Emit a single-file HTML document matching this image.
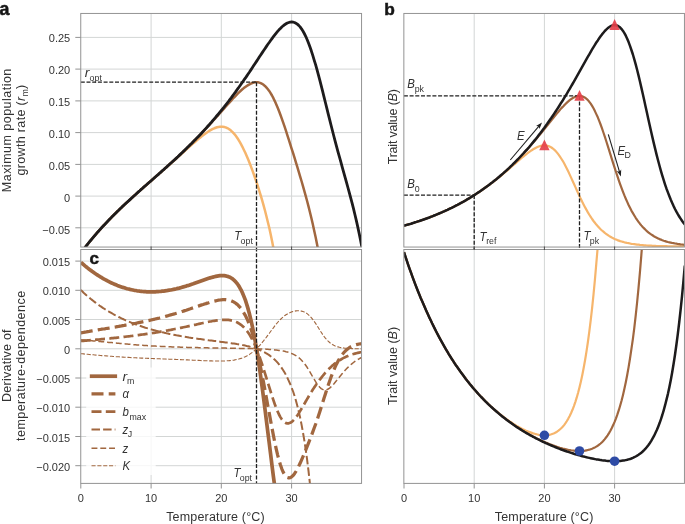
<!DOCTYPE html>
<html><head><meta charset="utf-8"><title>Figure</title>
<style>html,body{margin:0;padding:0;background:#fff;overflow:hidden}svg{display:block}</style></head>
<body>
<svg width="685" height="524" viewBox="0 0 685 524" font-family="'Liberation Sans', sans-serif" fill="#333333">
<defs>
<clipPath id="cpa"><rect x="80.75" y="13.45" width="280.8" height="233.6"/></clipPath>
<clipPath id="cpc"><rect x="80.75" y="249.5" width="280.8" height="233.9"/></clipPath>
<clipPath id="cpb"><rect x="403.85" y="13.45" width="280.6" height="233.6"/></clipPath>
<clipPath id="cpd"><rect x="403.85" y="249.5" width="280.6" height="233.9"/></clipPath>
</defs>
<rect width="685" height="524" fill="#fff"/>
<line x1="151.1" y1="13.45" x2="151.1" y2="247.0" stroke="#d3d6d5" stroke-width="1"/>
<line x1="221.3" y1="13.45" x2="221.3" y2="247.0" stroke="#d3d6d5" stroke-width="1"/>
<line x1="291.6" y1="13.45" x2="291.6" y2="247.0" stroke="#d3d6d5" stroke-width="1"/>
<line x1="80.75" y1="37.4" x2="361.5" y2="37.4" stroke="#d3d6d5" stroke-width="1"/>
<line x1="80.75" y1="69.1" x2="361.5" y2="69.1" stroke="#d3d6d5" stroke-width="1"/>
<line x1="80.75" y1="100.9" x2="361.5" y2="100.9" stroke="#d3d6d5" stroke-width="1"/>
<line x1="80.75" y1="132.6" x2="361.5" y2="132.6" stroke="#d3d6d5" stroke-width="1"/>
<line x1="80.75" y1="164.4" x2="361.5" y2="164.4" stroke="#d3d6d5" stroke-width="1"/>
<line x1="80.75" y1="196.1" x2="361.5" y2="196.1" stroke="#d3d6d5" stroke-width="1"/>
<line x1="80.75" y1="227.8" x2="361.5" y2="227.8" stroke="#d3d6d5" stroke-width="1"/>
<line x1="151.1" y1="249.5" x2="151.1" y2="483.45" stroke="#d3d6d5" stroke-width="1"/>
<line x1="221.3" y1="249.5" x2="221.3" y2="483.45" stroke="#d3d6d5" stroke-width="1"/>
<line x1="291.6" y1="249.5" x2="291.6" y2="483.45" stroke="#d3d6d5" stroke-width="1"/>
<line x1="80.75" y1="261.1" x2="361.5" y2="261.1" stroke="#d3d6d5" stroke-width="1"/>
<line x1="80.75" y1="290.3" x2="361.5" y2="290.3" stroke="#d3d6d5" stroke-width="1"/>
<line x1="80.75" y1="319.5" x2="361.5" y2="319.5" stroke="#d3d6d5" stroke-width="1"/>
<line x1="80.75" y1="348.8" x2="361.5" y2="348.8" stroke="#d3d6d5" stroke-width="1"/>
<line x1="80.75" y1="378.0" x2="361.5" y2="378.0" stroke="#d3d6d5" stroke-width="1"/>
<line x1="80.75" y1="407.2" x2="361.5" y2="407.2" stroke="#d3d6d5" stroke-width="1"/>
<line x1="80.75" y1="436.5" x2="361.5" y2="436.5" stroke="#d3d6d5" stroke-width="1"/>
<line x1="80.75" y1="465.7" x2="361.5" y2="465.7" stroke="#d3d6d5" stroke-width="1"/>
<line x1="474.2" y1="13.45" x2="474.2" y2="247.0" stroke="#d3d6d5" stroke-width="1"/>
<line x1="544.4" y1="13.45" x2="544.4" y2="247.0" stroke="#d3d6d5" stroke-width="1"/>
<line x1="614.6" y1="13.45" x2="614.6" y2="247.0" stroke="#d3d6d5" stroke-width="1"/>
<line x1="474.2" y1="249.5" x2="474.2" y2="483.45" stroke="#d3d6d5" stroke-width="1"/>
<line x1="544.4" y1="249.5" x2="544.4" y2="483.45" stroke="#d3d6d5" stroke-width="1"/>
<line x1="614.6" y1="249.5" x2="614.6" y2="483.45" stroke="#d3d6d5" stroke-width="1"/>
<path d="M80.8,253.0 82.2,251.2 83.6,249.3 85.0,247.5 86.4,245.7 87.8,244.0 89.2,242.2 90.6,240.5 92.0,238.8 93.4,237.1 94.8,235.5 96.2,233.9 97.6,232.2 99.0,230.7 100.4,229.1 101.8,227.5 103.2,226.0 104.7,224.5 106.1,223.0 107.5,221.5 108.9,220.0 110.3,218.6 111.7,217.1 113.1,215.7 114.5,214.3 115.9,212.9 117.3,211.5 118.7,210.2 120.1,208.8 121.5,207.5 122.9,206.1 124.3,204.8 125.7,203.5 127.1,202.2 128.6,200.9 130.0,199.6 131.4,198.3 132.8,197.0 134.2,195.7 135.6,194.5 137.0,193.2 138.4,192.0 139.8,190.7 141.2,189.5 142.6,188.2 144.0,187.0 145.4,185.7 146.8,184.5 148.2,183.3 149.6,182.0 151.1,180.8 152.5,179.6 153.9,178.3 155.3,177.1 156.7,175.9 158.1,174.6 159.5,173.4 160.9,172.2 162.3,170.9 163.7,169.7 165.1,168.5 166.5,167.2 167.9,166.0 169.3,164.7 170.7,163.5 172.1,162.2 173.5,161.0 175.0,159.7 176.4,158.5 177.8,157.2 179.2,155.9 180.6,154.7 182.0,153.4 183.4,152.2 184.8,150.9 186.2,149.6 187.6,148.4 189.0,147.1 190.4,145.9 191.8,144.6 193.2,143.4 194.6,142.2 196.0,141.0 197.4,139.8 198.9,138.6 200.3,137.5 201.7,136.3 203.1,135.2 204.5,134.2 205.9,133.2 207.3,132.2 208.7,131.3 210.1,130.4 211.5,129.6 212.9,128.9 214.3,128.3 215.7,127.8 217.1,127.3 218.5,127.0 219.9,126.8 221.3,126.7 222.8,126.8 224.2,127.0 225.6,127.4 227.0,128.0 228.4,128.7 229.8,129.6 231.2,130.8 232.6,132.1 234.0,133.6 235.4,135.3 236.8,137.2 238.2,139.3 239.6,141.7 241.0,144.2 242.4,146.8 243.8,149.7 245.3,152.7 246.7,155.9 248.1,159.3 249.5,162.7 250.9,166.4 252.3,170.1 253.7,174.0 255.1,178.0 256.5,182.1 257.9,186.4 259.3,190.8 260.7,195.4 262.1,200.1 263.5,205.1 264.9,210.3 266.3,215.7 267.7,221.5 269.2,227.5 270.6,233.9 272.0,240.7 273.4,248.0 274.8,255.7 276.2,263.9 277.6,272.7 279.0,282.0 280.4,292.0" fill="none" stroke="#f6b56c" stroke-width="2.5" stroke-linejoin="round" stroke-linecap="butt" clip-path="url(#cpa)"/>
<path d="M80.8,253.0 82.2,251.2 83.6,249.3 85.0,247.5 86.4,245.7 87.8,244.0 89.2,242.2 90.6,240.5 92.0,238.8 93.4,237.1 94.8,235.5 96.2,233.9 97.6,232.2 99.0,230.7 100.4,229.1 101.8,227.5 103.2,226.0 104.7,224.5 106.1,223.0 107.5,221.5 108.9,220.0 110.3,218.6 111.7,217.1 113.1,215.7 114.5,214.3 115.9,212.9 117.3,211.5 118.7,210.2 120.1,208.8 121.5,207.5 122.9,206.1 124.3,204.8 125.7,203.5 127.1,202.2 128.6,200.9 130.0,199.6 131.4,198.3 132.8,197.0 134.2,195.7 135.6,194.5 137.0,193.2 138.4,191.9 139.8,190.7 141.2,189.4 142.6,188.2 144.0,186.9 145.4,185.7 146.8,184.5 148.2,183.2 149.6,182.0 151.1,180.8 152.5,179.5 153.9,178.3 155.3,177.0 156.7,175.8 158.1,174.6 159.5,173.3 160.9,172.1 162.3,170.8 163.7,169.6 165.1,168.3 166.5,167.1 167.9,165.8 169.3,164.5 170.7,163.3 172.1,162.0 173.5,160.7 175.0,159.4 176.4,158.1 177.8,156.8 179.2,155.5 180.6,154.2 182.0,152.8 183.4,151.5 184.8,150.1 186.2,148.8 187.6,147.4 189.0,146.0 190.4,144.7 191.8,143.3 193.2,141.8 194.6,140.4 196.0,139.0 197.4,137.6 198.9,136.1 200.3,134.7 201.7,133.2 203.1,131.7 204.5,130.2 205.9,128.7 207.3,127.2 208.7,125.7 210.1,124.1 211.5,122.6 212.9,121.0 214.3,119.5 215.7,117.9 217.1,116.3 218.5,114.8 219.9,113.2 221.3,111.6 222.8,110.0 224.2,108.4 225.6,106.8 227.0,105.2 228.4,103.7 229.8,102.1 231.2,100.6 232.6,99.0 234.0,97.5 235.4,96.1 236.8,94.6 238.2,93.2 239.6,91.8 241.0,90.5 242.4,89.3 243.8,88.1 245.3,87.0 246.7,86.0 248.1,85.1 249.5,84.3 250.9,83.6 252.3,83.0 253.7,82.6 255.1,82.3 256.5,82.2 257.9,82.3 259.3,82.6 260.7,83.1 262.1,83.8 263.5,84.8 264.9,85.9 266.3,87.4 267.7,89.0 269.2,90.9 270.6,93.1 272.0,95.5 273.4,98.2 274.8,101.1 276.2,104.2 277.6,107.5 279.0,111.0 280.4,114.7 281.8,118.6 283.2,122.6 284.6,126.7 286.0,130.9 287.4,135.3 288.8,139.6 290.2,144.1 291.6,148.6 293.1,153.1 294.5,157.7 295.9,162.3 297.3,166.9 298.7,171.6 300.1,176.3 301.5,181.0 302.9,185.9 304.3,190.8 305.7,195.8 307.1,201.0 308.5,206.4 309.9,212.0 311.3,217.7 312.7,223.8 314.1,230.2 315.6,236.9 317.0,244.0 318.4,251.5 319.8,259.5 321.2,268.0 322.6,277.0 324.0,286.6 325.4,296.8" fill="none" stroke="#a1673f" stroke-width="2.5" stroke-linejoin="round" stroke-linecap="butt" clip-path="url(#cpa)"/>
<path d="M80.8,253.0 82.2,251.2 83.6,249.3 85.0,247.5 86.4,245.7 87.8,244.0 89.2,242.2 90.6,240.5 92.0,238.8 93.4,237.1 94.8,235.5 96.2,233.9 97.6,232.2 99.0,230.7 100.4,229.1 101.8,227.5 103.2,226.0 104.7,224.5 106.1,223.0 107.5,221.5 108.9,220.0 110.3,218.6 111.7,217.1 113.1,215.7 114.5,214.3 115.9,212.9 117.3,211.5 118.7,210.2 120.1,208.8 121.5,207.5 122.9,206.1 124.3,204.8 125.7,203.5 127.1,202.2 128.6,200.9 130.0,199.6 131.4,198.3 132.8,197.0 134.2,195.7 135.6,194.5 137.0,193.2 138.4,191.9 139.8,190.7 141.2,189.4 142.6,188.2 144.0,186.9 145.4,185.7 146.8,184.5 148.2,183.2 149.6,182.0 151.1,180.8 152.5,179.5 153.9,178.3 155.3,177.0 156.7,175.8 158.1,174.6 159.5,173.3 160.9,172.1 162.3,170.8 163.7,169.6 165.1,168.3 166.5,167.1 167.9,165.8 169.3,164.5 170.7,163.2 172.1,162.0 173.5,160.7 175.0,159.4 176.4,158.1 177.8,156.8 179.2,155.4 180.6,154.1 182.0,152.8 183.4,151.4 184.8,150.1 186.2,148.7 187.6,147.3 189.0,146.0 190.4,144.6 191.8,143.2 193.2,141.7 194.6,140.3 196.0,138.9 197.4,137.4 198.9,135.9 200.3,134.5 201.7,133.0 203.1,131.4 204.5,129.9 205.9,128.4 207.3,126.8 208.7,125.3 210.1,123.7 211.5,122.1 212.9,120.4 214.3,118.8 215.7,117.2 217.1,115.5 218.5,113.8 219.9,112.1 221.3,110.4 222.8,108.6 224.2,106.9 225.6,105.1 227.0,103.3 228.4,101.5 229.8,99.6 231.2,97.8 232.6,95.9 234.0,94.0 235.4,92.1 236.8,90.1 238.2,88.2 239.6,86.2 241.0,84.2 242.4,82.2 243.8,80.2 245.3,78.2 246.7,76.1 248.1,74.0 249.5,72.0 250.9,69.9 252.3,67.8 253.7,65.6 255.1,63.5 256.5,61.4 257.9,59.3 259.3,57.1 260.7,55.0 262.1,52.9 263.5,50.8 264.9,48.7 266.3,46.6 267.7,44.5 269.2,42.5 270.6,40.5 272.0,38.6 273.4,36.7 274.8,34.9 276.2,33.1 277.6,31.4 279.0,29.8 280.4,28.4 281.8,27.0 283.2,25.8 284.6,24.7 286.0,23.8 287.4,23.0 288.8,22.5 290.2,22.1 291.6,22.0 293.1,22.2 294.5,22.5 295.9,23.2 297.3,24.1 298.7,25.4 300.1,26.9 301.5,28.8 302.9,31.0 304.3,33.5 305.7,36.3 307.1,39.5 308.5,43.0 309.9,46.8 311.3,50.8 312.7,55.2 314.1,59.8 315.6,64.6 317.0,69.6 318.4,74.8 319.8,80.2 321.2,85.7 322.6,91.2 324.0,96.8 325.4,102.5 326.8,108.2 328.2,113.8 329.6,119.4 331.0,125.0 332.4,130.5 333.8,136.0 335.2,141.4 336.6,146.7 338.0,151.9 339.5,157.1 340.9,162.2 342.3,167.3 343.7,172.3 345.1,177.3 346.5,182.4 347.9,187.5 349.3,192.6 350.7,197.8 352.1,203.2 353.5,208.7 354.9,214.5 356.3,220.4 357.7,226.6 359.1,233.1 360.5,240.0 361.9,247.2" fill="none" stroke="#1d1b1c" stroke-width="2.8" stroke-linejoin="round" stroke-linecap="butt" clip-path="url(#cpa)"/>
<path d="M80.8,353.7 82.2,353.8 83.6,353.9 85.0,354.1 86.4,354.2 87.8,354.3 89.2,354.5 90.6,354.6 92.0,354.7 93.4,354.8 94.8,355.0 96.2,355.1 97.6,355.2 99.0,355.3 100.4,355.5 101.8,355.6 103.2,355.7 104.7,355.8 106.1,355.9 107.5,356.0 108.9,356.1 110.3,356.2 111.7,356.3 113.1,356.5 114.5,356.6 115.9,356.7 117.3,356.7 118.7,356.8 120.1,356.9 121.5,357.0 122.9,357.1 124.3,357.2 125.7,357.3 127.1,357.4 128.6,357.4 130.0,357.5 131.4,357.6 132.8,357.7 134.2,357.7 135.6,357.8 137.0,357.9 138.4,357.9 139.8,358.0 141.2,358.1 142.6,358.1 144.0,358.2 145.4,358.3 146.8,358.3 148.2,358.4 149.6,358.4 151.1,358.5 152.5,358.5 153.9,358.6 155.3,358.7 156.7,358.7 158.1,358.8 159.5,358.8 160.9,358.9 162.3,358.9 163.7,359.0 165.1,359.0 166.5,359.1 167.9,359.1 169.3,359.2 170.7,359.2 172.1,359.3 173.5,359.4 175.0,359.4 176.4,359.5 177.8,359.5 179.2,359.6 180.6,359.6 182.0,359.7 183.4,359.8 184.8,359.8 186.2,359.9 187.6,359.9 189.0,360.0 190.4,360.1 191.8,360.1 193.2,360.2 194.6,360.2 196.0,360.3 197.4,360.4 198.9,360.4 200.3,360.5 201.7,360.6 203.1,360.6 204.5,360.7 205.9,360.7 207.3,360.8 208.7,360.8 210.1,360.9 211.5,360.9 212.9,361.0 214.3,361.0 215.7,361.0 217.1,361.0 218.5,361.0 219.9,361.0 221.3,361.0 222.8,361.0 224.2,361.0 225.6,360.9 227.0,360.8 228.4,360.7 229.8,360.6 231.2,360.5 232.6,360.3 234.0,360.1 235.4,359.8 236.8,359.5 238.2,359.2 239.6,358.8 241.0,358.4 242.4,357.9 243.8,357.3 245.3,356.7 246.7,356.0 248.1,355.2 249.5,354.4 250.9,353.4 252.3,352.4 253.7,351.3 255.1,350.1 256.5,348.8 257.9,347.4 259.3,345.9 260.7,344.3 262.1,342.6 263.5,340.9 264.9,339.1 266.3,337.3 267.7,335.4 269.2,333.5 270.6,331.5 272.0,329.6 273.4,327.8 274.8,325.9 276.2,324.2 277.6,322.5 279.0,320.9 280.4,319.5 281.8,318.1 283.2,316.9 284.6,315.7 286.0,314.7 287.4,313.9 288.8,313.1 290.2,312.5 291.6,311.9 293.1,311.5 294.5,311.2 295.9,310.9 297.3,310.8 298.7,310.8 300.1,310.9 301.5,311.1 302.9,311.5 304.3,312.0 305.7,312.7 307.1,313.6 308.5,314.8 309.9,316.1 311.3,317.6 312.7,319.4 314.1,321.3 315.6,323.4 317.0,325.6 318.4,327.8 319.8,330.1 321.2,332.3 322.6,334.4 324.0,336.3 325.4,338.1 326.8,339.8 328.2,341.2 329.6,342.5 331.0,343.6 332.4,344.5 333.8,345.3 335.2,346.0 336.6,346.5 338.0,346.9 339.5,347.3 340.9,347.6 342.3,347.8 343.7,348.0 345.1,348.2 346.5,348.3 347.9,348.4 349.3,348.5 350.7,348.5 352.1,348.6 353.5,348.6 354.9,348.7 356.3,348.7 357.7,348.7 359.1,348.7 360.5,348.7 361.9,348.7" fill="none" stroke="#a1673f" stroke-width="1.1" stroke-linejoin="round" stroke-linecap="butt" stroke-dasharray="4.1 1.75" clip-path="url(#cpc)"/>
<path d="M80.8,339.8 82.2,339.9 83.6,340.0 85.0,340.2 86.4,340.3 87.8,340.4 89.2,340.5 90.6,340.6 92.0,340.7 93.4,340.9 94.8,341.0 96.2,341.1 97.6,341.3 99.0,341.4 100.4,341.5 101.8,341.7 103.2,341.8 104.7,341.9 106.1,342.1 107.5,342.2 108.9,342.4 110.3,342.5 111.7,342.6 113.1,342.8 114.5,342.9 115.9,343.0 117.3,343.2 118.7,343.3 120.1,343.4 121.5,343.6 122.9,343.7 124.3,343.8 125.7,344.0 127.1,344.1 128.6,344.2 130.0,344.3 131.4,344.4 132.8,344.6 134.2,344.7 135.6,344.8 137.0,344.9 138.4,345.0 139.8,345.1 141.2,345.2 142.6,345.3 144.0,345.4 145.4,345.5 146.8,345.6 148.2,345.7 149.6,345.8 151.1,345.9 152.5,345.9 153.9,346.0 155.3,346.1 156.7,346.2 158.1,346.2 159.5,346.3 160.9,346.4 162.3,346.5 163.7,346.5 165.1,346.6 166.5,346.7 167.9,346.7 169.3,346.8 170.7,346.8 172.1,346.9 173.5,346.9 175.0,347.0 176.4,347.0 177.8,347.1 179.2,347.1 180.6,347.2 182.0,347.2 183.4,347.3 184.8,347.3 186.2,347.3 187.6,347.4 189.0,347.4 190.4,347.5 191.8,347.5 193.2,347.5 194.6,347.6 196.0,347.6 197.4,347.6 198.9,347.7 200.3,347.7 201.7,347.7 203.1,347.7 204.5,347.8 205.9,347.8 207.3,347.8 208.7,347.9 210.1,347.9 211.5,347.9 212.9,347.9 214.3,348.0 215.7,348.0 217.1,348.0 218.5,348.0 219.9,348.0 221.3,348.1 222.8,348.1 224.2,348.1 225.6,348.1 227.0,348.2 228.4,348.2 229.8,348.2 231.2,348.2 232.6,348.2 234.0,348.3 235.4,348.3 236.8,348.3 238.2,348.3 239.6,348.4 241.0,348.4 242.4,348.4 243.8,348.4 245.3,348.5 246.7,348.5 248.1,348.5 249.5,348.6 250.9,348.6 252.3,348.6 253.7,348.7 255.1,348.7 256.5,348.8 257.9,348.8 259.3,348.9 260.7,348.9 262.1,349.0 263.5,349.1 264.9,349.1 266.3,349.2 267.7,349.3 269.2,349.4 270.6,349.5 272.0,349.6 273.4,349.7 274.8,349.9 276.2,350.0 277.6,350.2 279.0,350.4 280.4,350.6 281.8,350.8 283.2,351.0 284.6,351.3 286.0,351.7 287.4,352.0 288.8,352.4 290.2,352.9 291.6,353.5 293.1,354.1 294.5,354.8 295.9,355.6 297.3,356.5 298.7,357.6 300.1,358.8 301.5,360.2 302.9,361.7 304.3,363.4 305.7,365.3 307.1,367.3 308.5,369.6 309.9,371.9 311.3,374.3 312.7,376.8 314.1,379.2 315.6,381.6 317.0,383.8 318.4,385.7 319.8,387.3 321.2,388.6 322.6,389.4 324.0,389.9 325.4,390.0 326.8,389.7 328.2,389.0 329.6,388.1 331.0,386.9 332.4,385.4 333.8,383.9 335.2,382.2 336.6,380.5 338.0,378.7 339.5,376.9 340.9,375.2 342.3,373.5 343.7,371.9 345.1,370.3 346.5,368.8 347.9,367.4 349.3,366.0 350.7,364.8 352.1,363.6 353.5,362.5 354.9,361.4 356.3,360.5 357.7,359.6 359.1,358.8 360.5,358.0 361.9,357.3" fill="none" stroke="#a1673f" stroke-width="1.5" stroke-linejoin="round" stroke-linecap="butt" stroke-dasharray="5.9 2.9" clip-path="url(#cpc)"/>
<path d="M80.8,290.0 82.2,291.3 83.6,292.7 85.0,293.9 86.4,295.2 87.8,296.4 89.2,297.6 90.6,298.8 92.0,299.9 93.4,301.0 94.8,302.1 96.2,303.2 97.6,304.2 99.0,305.2 100.4,306.2 101.8,307.1 103.2,308.1 104.7,309.0 106.1,309.9 107.5,310.7 108.9,311.6 110.3,312.4 111.7,313.2 113.1,314.0 114.5,314.8 115.9,315.5 117.3,316.3 118.7,317.0 120.1,317.7 121.5,318.4 122.9,319.0 124.3,319.7 125.7,320.3 127.1,320.9 128.6,321.5 130.0,322.1 131.4,322.7 132.8,323.2 134.2,323.8 135.6,324.3 137.0,324.8 138.4,325.3 139.8,325.8 141.2,326.3 142.6,326.8 144.0,327.2 145.4,327.7 146.8,328.1 148.2,328.5 149.6,329.0 151.1,329.4 152.5,329.8 153.9,330.1 155.3,330.5 156.7,330.9 158.1,331.3 159.5,331.6 160.9,332.0 162.3,332.3 163.7,332.6 165.1,332.9 166.5,333.3 167.9,333.6 169.3,333.9 170.7,334.2 172.1,334.4 173.5,334.7 175.0,335.0 176.4,335.3 177.8,335.5 179.2,335.8 180.6,336.1 182.0,336.3 183.4,336.5 184.8,336.8 186.2,337.0 187.6,337.2 189.0,337.5 190.4,337.7 191.8,337.9 193.2,338.1 194.6,338.3 196.0,338.5 197.4,338.7 198.9,338.9 200.3,339.1 201.7,339.3 203.1,339.5 204.5,339.7 205.9,339.9 207.3,340.1 208.7,340.3 210.1,340.4 211.5,340.6 212.9,340.8 214.3,341.0 215.7,341.1 217.1,341.3 218.5,341.5 219.9,341.7 221.3,341.9 222.8,342.0 224.2,342.2 225.6,342.4 227.0,342.6 228.4,342.8 229.8,343.0 231.2,343.2 232.6,343.4 234.0,343.6 235.4,343.8 236.8,344.1 238.2,344.3 239.6,344.5 241.0,344.8 242.4,345.1 243.8,345.3 245.3,345.6 246.7,346.0 248.1,346.3 249.5,346.6 250.9,347.0 252.3,347.4 253.7,347.8 255.1,348.3 256.5,348.8 257.9,349.3 259.3,349.8 260.7,350.4 262.1,351.1 263.5,351.8 264.9,352.5 266.3,353.3 267.7,354.2 269.2,355.1 270.6,356.2 272.0,357.3 273.4,358.5 274.8,359.7 276.2,361.1 277.6,362.7 279.0,364.3 280.4,366.1 281.8,368.1 283.2,370.2 284.6,372.5 286.0,375.0 287.4,377.8 288.8,380.8 290.2,384.0 291.6,387.6 293.1,391.5 294.5,395.8 295.9,400.5 297.3,405.7 298.7,411.3 300.1,417.5 301.5,424.4 302.9,432.0 304.3,440.3 305.7,449.5 307.1,459.6 308.5,470.9 309.9,483.3 311.3,497.0 312.7,512.1" fill="none" stroke="#a1673f" stroke-width="2.0" stroke-linejoin="round" stroke-linecap="butt" stroke-dasharray="8.5 3.1" clip-path="url(#cpc)"/>
<path d="M80.8,341.0 82.2,340.9 83.6,340.8 85.0,340.7 86.4,340.6 87.8,340.4 89.2,340.3 90.6,340.2 92.0,340.1 93.4,340.0 94.8,339.8 96.2,339.7 97.6,339.6 99.0,339.5 100.4,339.3 101.8,339.2 103.2,339.1 104.7,338.9 106.1,338.8 107.5,338.7 108.9,338.5 110.3,338.4 111.7,338.2 113.1,338.1 114.5,337.9 115.9,337.8 117.3,337.6 118.7,337.5 120.1,337.3 121.5,337.2 122.9,337.0 124.3,336.8 125.7,336.7 127.1,336.5 128.6,336.3 130.0,336.2 131.4,336.0 132.8,335.8 134.2,335.6 135.6,335.5 137.0,335.3 138.4,335.1 139.8,334.9 141.2,334.7 142.6,334.5 144.0,334.3 145.4,334.1 146.8,333.9 148.2,333.7 149.6,333.5 151.1,333.2 152.5,333.0 153.9,332.8 155.3,332.6 156.7,332.3 158.1,332.1 159.5,331.9 160.9,331.6 162.3,331.4 163.7,331.1 165.1,330.9 166.5,330.6 167.9,330.4 169.3,330.1 170.7,329.9 172.1,329.6 173.5,329.3 175.0,329.0 176.4,328.8 177.8,328.5 179.2,328.2 180.6,327.9 182.0,327.6 183.4,327.3 184.8,327.0 186.2,326.7 187.6,326.4 189.0,326.1 190.4,325.8 191.8,325.5 193.2,325.2 194.6,324.9 196.0,324.6 197.4,324.2 198.9,323.9 200.3,323.6 201.7,323.3 203.1,323.0 204.5,322.7 205.9,322.4 207.3,322.1 208.7,321.8 210.1,321.5 211.5,321.3 212.9,321.0 214.3,320.8 215.7,320.6 217.1,320.4 218.5,320.2 219.9,320.0 221.3,319.9 222.8,319.8 224.2,319.8 225.6,319.8 227.0,319.8 228.4,319.9 229.8,320.1 231.2,320.4 232.6,320.7 234.0,321.1 235.4,321.6 236.8,322.2 238.2,323.0 239.6,323.8 241.0,324.8 242.4,326.0 243.8,327.3 245.3,328.8 246.7,330.6 248.1,332.5 249.5,334.6 250.9,337.0 252.3,339.6 253.7,342.4 255.1,345.5 256.5,348.8 257.9,352.3 259.3,356.1 260.7,360.1 262.1,364.3 263.5,368.6 264.9,373.1 266.3,377.7 267.7,382.3 269.2,386.9 270.6,391.5 272.0,395.9 273.4,400.2 274.8,404.2 276.2,408.0 277.6,411.4 279.0,414.5 280.4,417.1 281.8,419.3 283.2,421.0 284.6,422.3 286.0,423.1 287.4,423.4 288.8,423.3 290.2,422.8 291.6,422.0 293.1,420.7 294.5,419.2 295.9,417.5 297.3,415.5 298.7,413.4 300.1,411.1 301.5,408.8 302.9,406.4 304.3,404.0 305.7,401.5 307.1,399.1 308.5,396.7 309.9,394.3 311.3,392.1 312.7,389.8 314.1,387.6 315.6,385.5 317.0,383.5 318.4,381.5 319.8,379.6 321.2,377.8 322.6,376.0 324.0,374.3 325.4,372.7 326.8,371.1 328.2,369.6 329.6,368.2 331.0,366.9 332.4,365.6 333.8,364.4 335.2,363.3 336.6,362.2 338.0,361.2 339.5,360.3 340.9,359.5 342.3,358.6 343.7,357.9 345.1,357.2 346.5,356.6 347.9,356.0 349.3,355.4 350.7,354.9 352.1,354.4 353.5,354.0 354.9,353.6 356.3,353.2 357.7,352.9 359.1,352.6 360.5,352.3 361.9,352.0" fill="none" stroke="#a1673f" stroke-width="2.7" stroke-linejoin="round" stroke-linecap="butt" stroke-dasharray="10 4.3" clip-path="url(#cpc)"/>
<path d="M80.8,332.8 82.2,332.6 83.6,332.4 85.0,332.1 86.4,331.9 87.8,331.6 89.2,331.4 90.6,331.1 92.0,330.9 93.4,330.7 94.8,330.4 96.2,330.2 97.6,330.0 99.0,329.7 100.4,329.5 101.8,329.2 103.2,329.0 104.7,328.8 106.1,328.5 107.5,328.3 108.9,328.1 110.3,327.8 111.7,327.6 113.1,327.3 114.5,327.1 115.9,326.9 117.3,326.6 118.7,326.4 120.1,326.1 121.5,325.9 122.9,325.6 124.3,325.4 125.7,325.1 127.1,324.9 128.6,324.6 130.0,324.3 131.4,324.1 132.8,323.8 134.2,323.5 135.6,323.3 137.0,323.0 138.4,322.7 139.8,322.4 141.2,322.1 142.6,321.8 144.0,321.5 145.4,321.2 146.8,320.9 148.2,320.6 149.6,320.3 151.1,320.0 152.5,319.7 153.9,319.3 155.3,319.0 156.7,318.7 158.1,318.3 159.5,318.0 160.9,317.6 162.3,317.2 163.7,316.9 165.1,316.5 166.5,316.1 167.9,315.7 169.3,315.3 170.7,314.9 172.1,314.5 173.5,314.1 175.0,313.7 176.4,313.3 177.8,312.9 179.2,312.4 180.6,312.0 182.0,311.5 183.4,311.1 184.8,310.6 186.2,310.2 187.6,309.7 189.0,309.2 190.4,308.8 191.8,308.3 193.2,307.8 194.6,307.3 196.0,306.9 197.4,306.4 198.9,305.9 200.3,305.4 201.7,304.9 203.1,304.5 204.5,304.0 205.9,303.6 207.3,303.1 208.7,302.7 210.1,302.2 211.5,301.8 212.9,301.5 214.3,301.1 215.7,300.8 217.1,300.5 218.5,300.2 219.9,300.0 221.3,299.8 222.8,299.7 224.2,299.7 225.6,299.7 227.0,299.9 228.4,300.1 229.8,300.4 231.2,300.8 232.6,301.4 234.0,302.1 235.4,303.0 236.8,304.1 238.2,305.3 239.6,306.8 241.0,308.5 242.4,310.5 243.8,312.8 245.3,315.3 246.7,318.2 248.1,321.4 249.5,325.0 250.9,329.0 252.3,333.3 253.7,338.1 255.1,343.2 256.5,348.8 257.9,354.7 259.3,361.1 260.7,367.8 262.1,374.8 263.5,382.1 264.9,389.6 266.3,397.3 267.7,405.1 269.2,412.9 270.6,420.6 272.0,428.1 273.4,435.4 274.8,442.3 276.2,448.8 277.6,454.8 279.0,460.1 280.4,464.8 281.8,468.8 283.2,472.1 284.6,474.6 286.0,476.4 287.4,477.5 288.8,477.9 290.2,477.7 291.6,476.8 293.1,475.5 294.5,473.7 295.9,471.5 297.3,469.0 298.7,466.2 300.1,463.3 301.5,460.1 302.9,456.9 304.3,453.5 305.7,450.1 307.1,446.7 308.5,443.1 309.9,439.5 311.3,435.9 312.7,432.1 314.1,428.3 315.6,424.3 317.0,420.2 318.4,416.0 319.8,411.7 321.2,407.3 322.6,402.8 324.0,398.3 325.4,393.9 326.8,389.5 328.2,385.3 329.6,381.2 331.0,377.2 332.4,373.5 333.8,370.1 335.2,366.8 336.6,363.9 338.0,361.2 339.5,358.7 340.9,356.5 342.3,354.5 343.7,352.8 345.1,351.2 346.5,349.9 347.9,348.7 349.3,347.7 350.7,346.8 352.1,346.1 353.5,345.5 354.9,345.0 356.3,344.6 357.7,344.3 359.1,344.0 360.5,343.8 361.9,343.7" fill="none" stroke="#a1673f" stroke-width="3.25" stroke-linejoin="round" stroke-linecap="butt" stroke-dasharray="12 5.2" clip-path="url(#cpc)"/>
<path d="M80.8,262.3 82.2,263.5 83.6,264.7 85.0,265.9 86.4,267.0 87.8,268.1 89.2,269.2 90.6,270.2 92.0,271.3 93.4,272.3 94.8,273.3 96.2,274.2 97.6,275.1 99.0,276.0 100.4,276.9 101.8,277.7 103.2,278.6 104.7,279.4 106.1,280.1 107.5,280.9 108.9,281.6 110.3,282.3 111.7,283.0 113.1,283.6 114.5,284.2 115.9,284.8 117.3,285.4 118.7,285.9 120.1,286.4 121.5,286.9 122.9,287.4 124.3,287.8 125.7,288.3 127.1,288.7 128.6,289.0 130.0,289.4 131.4,289.7 132.8,290.0 134.2,290.3 135.6,290.5 137.0,290.8 138.4,291.0 139.8,291.2 141.2,291.3 142.6,291.5 144.0,291.6 145.4,291.7 146.8,291.8 148.2,291.8 149.6,291.8 151.1,291.9 152.5,291.8 153.9,291.8 155.3,291.8 156.7,291.7 158.1,291.6 159.5,291.5 160.9,291.4 162.3,291.2 163.7,291.1 165.1,290.9 166.5,290.7 167.9,290.4 169.3,290.2 170.7,290.0 172.1,289.7 173.5,289.4 175.0,289.1 176.4,288.8 177.8,288.4 179.2,288.1 180.6,287.7 182.0,287.3 183.4,286.9 184.8,286.5 186.2,286.1 187.6,285.6 189.0,285.2 190.4,284.7 191.8,284.2 193.2,283.8 194.6,283.3 196.0,282.8 197.4,282.3 198.9,281.8 200.3,281.3 201.7,280.8 203.1,280.3 204.5,279.8 205.9,279.3 207.3,278.8 208.7,278.3 210.1,277.9 211.5,277.5 212.9,277.1 214.3,276.7 215.7,276.4 217.1,276.1 218.5,275.9 219.9,275.7 221.3,275.6 222.8,275.6 224.2,275.7 225.6,275.9 227.0,276.2 228.4,276.6 229.8,277.2 231.2,278.0 232.6,278.9 234.0,280.1 235.4,281.5 236.8,283.1 238.2,285.0 239.6,287.3 241.0,289.8 242.4,292.8 243.8,296.1 245.3,299.9 246.7,304.2 248.1,308.9 249.5,314.1 250.9,319.9 252.3,326.2 253.7,333.2 255.1,340.7 256.5,348.8 257.9,357.4 259.3,366.7 260.7,376.4 262.1,386.7 263.5,397.4 264.9,408.4 266.3,419.7 267.7,431.1 269.2,442.7 270.6,454.1 272.0,465.4 273.4,476.4 274.8,487.0 276.2,497.0 277.6,506.4 279.0,515.1" fill="none" stroke="#a1673f" stroke-width="3.7" stroke-linejoin="round" stroke-linecap="butt" clip-path="url(#cpc)"/>
<path d="M404.0,225.7 405.4,225.3 406.8,224.9 408.2,224.5 409.6,224.1 411.0,223.7 412.4,223.2 413.8,222.8 415.2,222.3 416.6,221.9 418.0,221.4 419.4,221.0 420.8,220.5 422.3,220.0 423.7,219.5 425.1,219.0 426.5,218.5 427.9,218.0 429.3,217.5 430.7,216.9 432.1,216.4 433.5,215.8 434.9,215.3 436.3,214.7 437.7,214.1 439.1,213.5 440.5,212.9 441.9,212.3 443.3,211.7 444.7,211.1 446.1,210.4 447.5,209.8 448.9,209.1 450.3,208.4 451.7,207.8 453.1,207.1 454.5,206.4 455.9,205.6 457.4,204.9 458.8,204.2 460.2,203.4 461.6,202.6 463.0,201.9 464.4,201.1 465.8,200.3 467.2,199.5 468.6,198.6 470.0,197.8 471.4,196.9 472.8,196.1 474.2,195.2 475.6,194.3 477.0,193.4 478.4,192.5 479.8,191.5 481.2,190.6 482.6,189.6 484.0,188.6 485.4,187.6 486.8,186.6 488.2,185.6 489.6,184.6 491.0,183.5 492.5,182.4 493.9,181.4 495.3,180.3 496.7,179.2 498.1,178.0 499.5,176.9 500.9,175.8 502.3,174.6 503.7,173.4 505.1,172.2 506.5,171.1 507.9,169.9 509.3,168.6 510.7,167.4 512.1,166.2 513.5,165.0 514.9,163.8 516.3,162.6 517.7,161.3 519.1,160.1 520.5,158.9 521.9,157.7 523.3,156.6 524.7,155.4 526.1,154.3 527.6,153.2 529.0,152.2 530.4,151.2 531.8,150.2 533.2,149.3 534.6,148.5 536.0,147.7 537.4,147.1 538.8,146.5 540.2,146.0 541.6,145.7 543.0,145.5 544.4,145.4 545.8,145.5 547.2,145.7 548.6,146.1 550.0,146.7 551.4,147.5 552.8,148.5 554.2,149.6 555.6,151.0 557.0,152.6 558.4,154.4 559.8,156.3 561.2,158.5 562.7,160.8 564.1,163.3 565.5,166.0 566.9,168.7 568.3,171.6 569.7,174.6 571.1,177.6 572.5,180.7 573.9,183.8 575.3,186.9 576.7,190.0 578.1,193.1 579.5,196.1 580.9,199.1 582.3,201.9 583.7,204.7 585.1,207.4 586.5,209.9 587.9,212.4 589.3,214.7 590.7,216.9 592.1,219.0 593.5,221.0 594.9,222.8 596.3,224.6 597.8,226.2 599.2,227.8 600.6,229.2 602.0,230.5 603.4,231.7 604.8,232.9 606.2,234.0 607.6,234.9 609.0,235.9 610.4,236.7 611.8,237.5 613.2,238.2 614.6,238.9 616.0,239.5 617.4,240.1 618.8,240.6 620.2,241.1 621.6,241.5 623.0,241.9 624.4,242.3 625.8,242.6 627.2,243.0 628.6,243.2 630.0,243.5 631.4,243.8 632.9,244.0 634.3,244.2 635.7,244.4 637.1,244.6 638.5,244.7 639.9,244.9 641.3,245.0 642.7,245.1 644.1,245.3 645.5,245.4 646.9,245.5 648.3,245.6 649.7,245.6 651.1,245.7 652.5,245.8 653.9,245.9 655.3,245.9 656.7,246.0 658.1,246.0 659.5,246.1 660.9,246.1 662.3,246.1 663.7,246.2 665.1,246.2 666.5,246.2 668.0,246.3 669.4,246.3 670.8,246.3 672.2,246.3 673.6,246.4 675.0,246.4 676.4,246.4 677.8,246.4 679.2,246.4 680.6,246.4 682.0,246.5 683.4,246.5 684.8,246.5" fill="none" stroke="#f6b56c" stroke-width="2.2" stroke-linejoin="round" stroke-linecap="butt" clip-path="url(#cpb)"/>
<path d="M404.0,225.7 405.4,225.3 406.8,224.9 408.2,224.5 409.6,224.1 411.0,223.7 412.4,223.2 413.8,222.8 415.2,222.3 416.6,221.9 418.0,221.4 419.4,221.0 420.8,220.5 422.3,220.0 423.7,219.5 425.1,219.0 426.5,218.5 427.9,218.0 429.3,217.5 430.7,216.9 432.1,216.4 433.5,215.8 434.9,215.3 436.3,214.7 437.7,214.1 439.1,213.5 440.5,212.9 441.9,212.3 443.3,211.7 444.7,211.1 446.1,210.4 447.5,209.8 448.9,209.1 450.3,208.4 451.7,207.8 453.1,207.1 454.5,206.4 455.9,205.6 457.4,204.9 458.8,204.2 460.2,203.4 461.6,202.6 463.0,201.9 464.4,201.1 465.8,200.3 467.2,199.4 468.6,198.6 470.0,197.8 471.4,196.9 472.8,196.0 474.2,195.2 475.6,194.3 477.0,193.3 478.4,192.4 479.8,191.5 481.2,190.5 482.6,189.5 484.0,188.5 485.4,187.5 486.8,186.5 488.2,185.5 489.6,184.4 491.0,183.3 492.5,182.3 493.9,181.2 495.3,180.0 496.7,178.9 498.1,177.7 499.5,176.6 500.9,175.4 502.3,174.2 503.7,172.9 505.1,171.7 506.5,170.4 507.9,169.1 509.3,167.8 510.7,166.5 512.1,165.2 513.5,163.8 514.9,162.4 516.3,161.0 517.7,159.6 519.1,158.2 520.5,156.7 521.9,155.2 523.3,153.7 524.7,152.2 526.1,150.6 527.6,149.1 529.0,147.5 530.4,145.9 531.8,144.3 533.2,142.6 534.6,141.0 536.0,139.3 537.4,137.6 538.8,135.9 540.2,134.2 541.6,132.5 543.0,130.8 544.4,129.0 545.8,127.3 547.2,125.5 548.6,123.7 550.0,122.0 551.4,120.2 552.8,118.5 554.2,116.7 555.6,115.0 557.0,113.3 558.4,111.7 559.8,110.0 561.2,108.4 562.7,106.9 564.1,105.4 565.5,104.0 566.9,102.6 568.3,101.4 569.7,100.2 571.1,99.1 572.5,98.2 573.9,97.4 575.3,96.8 576.7,96.3 578.1,96.0 579.5,95.9 580.9,96.0 582.3,96.3 583.7,96.9 585.1,97.7 586.5,98.8 587.9,100.1 589.3,101.8 590.7,103.7 592.1,105.9 593.5,108.3 594.9,111.1 596.3,114.1 597.8,117.3 599.2,120.8 600.6,124.5 602.0,128.4 603.4,132.5 604.8,136.7 606.2,141.0 607.6,145.4 609.0,149.8 610.4,154.3 611.8,158.8 613.2,163.3 614.6,167.7 616.0,172.0 617.4,176.2 618.8,180.3 620.2,184.3 621.6,188.1 623.0,191.8 624.4,195.4 625.8,198.7 627.2,201.9 628.6,205.0 630.0,207.8 631.4,210.6 632.9,213.1 634.3,215.5 635.7,217.8 637.1,219.9 638.5,221.8 639.9,223.7 641.3,225.4 642.7,227.0 644.1,228.4 645.5,229.8 646.9,231.1 648.3,232.3 649.7,233.4 651.1,234.4 652.5,235.3 653.9,236.2 655.3,237.0 656.7,237.7 658.1,238.4 659.5,239.1 660.9,239.6 662.3,240.2 663.7,240.7 665.1,241.1 666.5,241.6 668.0,242.0 669.4,242.3 670.8,242.6 672.2,243.0 673.6,243.2 675.0,243.5 676.4,243.7 677.8,244.0 679.2,244.2 680.6,244.4 682.0,244.5 683.4,244.7 684.8,244.8" fill="none" stroke="#a1673f" stroke-width="2.2" stroke-linejoin="round" stroke-linecap="butt" clip-path="url(#cpb)"/>
<path d="M404.0,225.7 405.4,225.3 406.8,224.9 408.2,224.5 409.6,224.1 411.0,223.7 412.4,223.2 413.8,222.8 415.2,222.3 416.6,221.9 418.0,221.4 419.4,221.0 420.8,220.5 422.3,220.0 423.7,219.5 425.1,219.0 426.5,218.5 427.9,218.0 429.3,217.5 430.7,216.9 432.1,216.4 433.5,215.8 434.9,215.3 436.3,214.7 437.7,214.1 439.1,213.5 440.5,212.9 441.9,212.3 443.3,211.7 444.7,211.1 446.1,210.4 447.5,209.8 448.9,209.1 450.3,208.4 451.7,207.8 453.1,207.1 454.5,206.4 455.9,205.6 457.4,204.9 458.8,204.2 460.2,203.4 461.6,202.6 463.0,201.9 464.4,201.1 465.8,200.3 467.2,199.4 468.6,198.6 470.0,197.8 471.4,196.9 472.8,196.0 474.2,195.2 475.6,194.2 477.0,193.3 478.4,192.4 479.8,191.5 481.2,190.5 482.6,189.5 484.0,188.5 485.4,187.5 486.8,186.5 488.2,185.5 489.6,184.4 491.0,183.3 492.5,182.2 493.9,181.1 495.3,180.0 496.7,178.9 498.1,177.7 499.5,176.5 500.9,175.3 502.3,174.1 503.7,172.9 505.1,171.6 506.5,170.4 507.9,169.1 509.3,167.8 510.7,166.4 512.1,165.1 513.5,163.7 514.9,162.3 516.3,160.9 517.7,159.5 519.1,158.0 520.5,156.5 521.9,155.0 523.3,153.5 524.7,151.9 526.1,150.4 527.6,148.8 529.0,147.2 530.4,145.5 531.8,143.8 533.2,142.1 534.6,140.4 536.0,138.7 537.4,136.9 538.8,135.1 540.2,133.3 541.6,131.4 543.0,129.6 544.4,127.7 545.8,125.7 547.2,123.8 548.6,121.8 550.0,119.8 551.4,117.8 552.8,115.7 554.2,113.6 555.6,111.5 557.0,109.3 558.4,107.2 559.8,105.0 561.2,102.7 562.7,100.5 564.1,98.2 565.5,95.9 566.9,93.6 568.3,91.2 569.7,88.8 571.1,86.4 572.5,84.0 573.9,81.6 575.3,79.1 576.7,76.7 578.1,74.2 579.5,71.7 580.9,69.2 582.3,66.7 583.7,64.2 585.1,61.7 586.5,59.2 587.9,56.7 589.3,54.3 590.7,51.8 592.1,49.4 593.5,47.1 594.9,44.8 596.3,42.5 597.8,40.4 599.2,38.3 600.6,36.3 602.0,34.4 603.4,32.7 604.8,31.0 606.2,29.6 607.6,28.3 609.0,27.2 610.4,26.3 611.8,25.6 613.2,25.2 614.6,25.1 616.0,25.2 617.4,25.7 618.8,26.5 620.2,27.6 621.6,29.1 623.0,30.9 624.4,33.1 625.8,35.7 627.2,38.7 628.6,42.1 630.0,45.9 631.4,50.0 632.9,54.5 634.3,59.3 635.7,64.4 637.1,69.8 638.5,75.4 639.9,81.3 641.3,87.4 642.7,93.5 644.1,99.8 645.5,106.2 646.9,112.6 648.3,118.9 649.7,125.2 651.1,131.5 652.5,137.6 653.9,143.6 655.3,149.4 656.7,155.1 658.1,160.5 659.5,165.8 660.9,170.8 662.3,175.6 663.7,180.2 665.1,184.6 666.5,188.7 668.0,192.6 669.4,196.3 670.8,199.8 672.2,203.0 673.6,206.1 675.0,209.0 676.4,211.7 677.8,214.2 679.2,216.5 680.6,218.7 682.0,220.8 683.4,222.7 684.8,224.4" fill="none" stroke="#1d1b1c" stroke-width="2.5" stroke-linejoin="round" stroke-linecap="butt" clip-path="url(#cpb)"/>
<path d="M404.0,252.2 405.4,256.5 406.8,260.7 408.2,264.8 409.6,268.8 411.0,272.7 412.4,276.6 413.8,280.4 415.2,284.1 416.6,287.7 418.0,291.3 419.4,294.7 420.8,298.2 422.3,301.5 423.7,304.8 425.1,308.0 426.5,311.2 427.9,314.3 429.3,317.4 430.7,320.3 432.1,323.3 433.5,326.1 434.9,328.9 436.3,331.7 437.7,334.4 439.1,337.1 440.5,339.7 441.9,342.2 443.3,344.7 444.7,347.2 446.1,349.6 447.5,351.9 448.9,354.2 450.3,356.5 451.7,358.7 453.1,360.9 454.5,363.1 455.9,365.2 457.4,367.2 458.8,369.3 460.2,371.2 461.6,373.2 463.0,375.1 464.4,377.0 465.8,378.8 467.2,380.6 468.6,382.4 470.0,384.1 471.4,385.8 472.8,387.5 474.2,389.1 475.6,390.7 477.0,392.3 478.4,393.9 479.8,395.4 481.2,396.9 482.6,398.3 484.0,399.8 485.4,401.2 486.8,402.5 488.2,403.9 489.6,405.2 491.0,406.5 492.5,407.8 493.9,409.0 495.3,410.3 496.7,411.4 498.1,412.6 499.5,413.8 500.9,414.9 502.3,416.0 503.7,417.0 505.1,418.1 506.5,419.1 507.9,420.1 509.3,421.1 510.7,422.0 512.1,423.0 513.5,423.9 514.9,424.7 516.3,425.6 517.7,426.4 519.1,427.2 520.5,428.0 521.9,428.7 523.3,429.4 524.7,430.1 526.1,430.7 527.6,431.3 529.0,431.9 530.4,432.4 531.8,432.9 533.2,433.4 534.6,433.8 536.0,434.2 537.4,434.5 538.8,434.8 540.2,435.0 541.6,435.2 543.0,435.3 544.4,435.3 545.8,435.3 547.2,435.2 548.6,435.0 550.0,434.7 551.4,434.3 552.8,433.8 554.2,433.2 555.6,432.5 557.0,431.7 558.4,430.7 559.8,429.5 561.2,428.2 562.7,426.7 564.1,425.1 565.5,423.2 566.9,421.0 568.3,418.6 569.7,416.0 571.1,413.0 572.5,409.8 573.9,406.1 575.3,402.1 576.7,397.7 578.1,392.8 579.5,387.4 580.9,381.5 582.3,375.0 583.7,367.8 585.1,360.0 586.5,351.4 587.9,342.0 589.3,331.7 590.7,320.4 592.1,308.1 593.5,294.6 594.9,279.8 596.3,263.7 597.8,246.1 599.2,226.9 600.6,205.9" fill="none" stroke="#f6b56c" stroke-width="2.2" stroke-linejoin="round" stroke-linecap="butt" clip-path="url(#cpd)"/>
<path d="M404.0,252.2 405.4,256.5 406.8,260.7 408.2,264.8 409.6,268.8 411.0,272.7 412.4,276.6 413.8,280.4 415.2,284.1 416.6,287.7 418.0,291.3 419.4,294.7 420.8,298.2 422.3,301.5 423.7,304.8 425.1,308.0 426.5,311.2 427.9,314.3 429.3,317.4 430.7,320.3 432.1,323.3 433.5,326.1 434.9,328.9 436.3,331.7 437.7,334.4 439.1,337.1 440.5,339.7 441.9,342.2 443.3,344.7 444.7,347.2 446.1,349.6 447.5,351.9 448.9,354.3 450.3,356.5 451.7,358.8 453.1,360.9 454.5,363.1 455.9,365.2 457.4,367.3 458.8,369.3 460.2,371.3 461.6,373.2 463.0,375.1 464.4,377.0 465.8,378.8 467.2,380.7 468.6,382.4 470.0,384.2 471.4,385.9 472.8,387.6 474.2,389.2 475.6,390.8 477.0,392.4 478.4,393.9 479.8,395.5 481.2,397.0 482.6,398.4 484.0,399.9 485.4,401.3 486.8,402.7 488.2,404.0 489.6,405.4 491.0,406.7 492.5,408.0 493.9,409.3 495.3,410.5 496.7,411.7 498.1,412.9 499.5,414.1 500.9,415.2 502.3,416.4 503.7,417.5 505.1,418.6 506.5,419.6 507.9,420.7 509.3,421.7 510.7,422.7 512.1,423.7 513.5,424.7 514.9,425.7 516.3,426.6 517.7,427.5 519.1,428.4 520.5,429.3 521.9,430.2 523.3,431.0 524.7,431.9 526.1,432.7 527.6,433.5 529.0,434.3 530.4,435.1 531.8,435.8 533.2,436.6 534.6,437.3 536.0,438.0 537.4,438.7 538.8,439.4 540.2,440.1 541.6,440.7 543.0,441.3 544.4,442.0 545.8,442.6 547.2,443.1 548.6,443.7 550.0,444.3 551.4,444.8 552.8,445.3 554.2,445.8 555.6,446.3 557.0,446.8 558.4,447.2 559.8,447.7 561.2,448.1 562.7,448.5 564.1,448.8 565.5,449.2 566.9,449.5 568.3,449.8 569.7,450.0 571.1,450.3 572.5,450.5 573.9,450.6 575.3,450.8 576.7,450.9 578.1,451.0 579.5,451.0 580.9,451.0 582.3,450.9 583.7,450.8 585.1,450.6 586.5,450.3 587.9,450.0 589.3,449.7 590.7,449.2 592.1,448.7 593.5,448.1 594.9,447.4 596.3,446.6 597.8,445.7 599.2,444.6 600.6,443.5 602.0,442.2 603.4,440.7 604.8,439.1 606.2,437.3 607.6,435.3 609.0,433.1 610.4,430.7 611.8,428.0 613.2,425.1 614.6,421.9 616.0,418.3 617.4,414.4 618.8,410.2 620.2,405.5 621.6,400.5 623.0,394.9 624.4,388.8 625.8,382.2 627.2,375.0 628.6,367.1 630.0,358.5 631.4,349.1 632.9,338.9 634.3,327.8 635.7,315.7 637.1,302.5 638.5,288.2 639.9,272.6 641.3,255.6 642.7,237.2 644.1,217.1" fill="none" stroke="#a1673f" stroke-width="2.2" stroke-linejoin="round" stroke-linecap="butt" clip-path="url(#cpd)"/>
<path d="M404.0,252.2 405.4,256.5 406.8,260.7 408.2,264.8 409.6,268.8 411.0,272.7 412.4,276.6 413.8,280.4 415.2,284.1 416.6,287.7 418.0,291.3 419.4,294.7 420.8,298.2 422.3,301.5 423.7,304.8 425.1,308.0 426.5,311.2 427.9,314.3 429.3,317.4 430.7,320.3 432.1,323.3 433.5,326.1 434.9,328.9 436.3,331.7 437.7,334.4 439.1,337.1 440.5,339.7 441.9,342.2 443.3,344.7 444.7,347.2 446.1,349.6 447.5,351.9 448.9,354.3 450.3,356.5 451.7,358.8 453.1,360.9 454.5,363.1 455.9,365.2 457.4,367.3 458.8,369.3 460.2,371.3 461.6,373.2 463.0,375.1 464.4,377.0 465.8,378.9 467.2,380.7 468.6,382.4 470.0,384.2 471.4,385.9 472.8,387.6 474.2,389.2 475.6,390.8 477.0,392.4 478.4,394.0 479.8,395.5 481.2,397.0 482.6,398.4 484.0,399.9 485.4,401.3 486.8,402.7 488.2,404.1 489.6,405.4 491.0,406.7 492.5,408.0 493.9,409.3 495.3,410.5 496.7,411.7 498.1,412.9 499.5,414.1 500.9,415.3 502.3,416.4 503.7,417.5 505.1,418.6 506.5,419.7 507.9,420.7 509.3,421.8 510.7,422.8 512.1,423.8 513.5,424.8 514.9,425.7 516.3,426.7 517.7,427.6 519.1,428.5 520.5,429.4 521.9,430.3 523.3,431.2 524.7,432.0 526.1,432.8 527.6,433.7 529.0,434.5 530.4,435.3 531.8,436.0 533.2,436.8 534.6,437.5 536.0,438.3 537.4,439.0 538.8,439.7 540.2,440.4 541.6,441.1 543.0,441.8 544.4,442.4 545.8,443.1 547.2,443.7 548.6,444.3 550.0,444.9 551.4,445.5 552.8,446.1 554.2,446.7 555.6,447.3 557.0,447.8 558.4,448.4 559.8,448.9 561.2,449.5 562.7,450.0 564.1,450.5 565.5,451.0 566.9,451.5 568.3,451.9 569.7,452.4 571.1,452.9 572.5,453.3 573.9,453.8 575.3,454.2 576.7,454.6 578.1,455.0 579.5,455.4 580.9,455.8 582.3,456.2 583.7,456.5 585.1,456.9 586.5,457.3 587.9,457.6 589.3,457.9 590.7,458.2 592.1,458.5 593.5,458.8 594.9,459.1 596.3,459.4 597.8,459.6 599.2,459.8 600.6,460.1 602.0,460.3 603.4,460.4 604.8,460.6 606.2,460.8 607.6,460.9 609.0,461.0 610.4,461.1 611.8,461.2 613.2,461.2 614.6,461.2 616.0,461.2 617.4,461.2 618.8,461.1 620.2,461.0 621.6,460.8 623.0,460.6 624.4,460.4 625.8,460.1 627.2,459.8 628.6,459.4 630.0,459.0 631.4,458.5 632.9,457.9 634.3,457.2 635.7,456.5 637.1,455.7 638.5,454.8 639.9,453.8 641.3,452.7 642.7,451.5 644.1,450.1 645.5,448.6 646.9,447.0 648.3,445.2 649.7,443.2 651.1,441.1 652.5,438.7 653.9,436.2 655.3,433.3 656.7,430.3 658.1,426.9 659.5,423.3 660.9,419.3 662.3,415.0 663.7,410.3 665.1,405.2 666.5,399.6 668.0,393.6 669.4,387.0 670.8,379.9 672.2,372.2 673.6,363.8 675.0,354.7 676.4,344.8 677.8,334.1 679.2,322.5 680.6,309.9 682.0,296.3 683.4,281.5 684.8,265.5" fill="none" stroke="#1d1b1c" stroke-width="2.5" stroke-linejoin="round" stroke-linecap="butt" clip-path="url(#cpd)"/>
<line x1="80.8" y1="82.2" x2="256.5" y2="82.2" stroke="#1f1f1f" stroke-width="1.3" stroke-dasharray="4 1.7"/>
<line x1="256.5" y1="82.2" x2="256.5" y2="483.4" stroke="#1f1f1f" stroke-width="1.3" stroke-dasharray="4 1.7"/>
<line x1="403.9" y1="95.9" x2="579.5" y2="95.9" stroke="#1f1f1f" stroke-width="1.3" stroke-dasharray="4 1.7"/>
<line x1="579.5" y1="95.9" x2="579.5" y2="249.5" stroke="#1f1f1f" stroke-width="1.3" stroke-dasharray="4 1.7"/>
<line x1="403.9" y1="195.1" x2="474.2" y2="195.1" stroke="#1f1f1f" stroke-width="1.3" stroke-dasharray="4 1.7"/>
<line x1="474.2" y1="195.1" x2="474.2" y2="249.5" stroke="#1f1f1f" stroke-width="1.3" stroke-dasharray="4 1.7"/>
<path d="M539.2,150.3 L549.6,150.3 L544.4,139.4 Z" fill="#e5404a" fill-opacity="0.92"/>
<circle cx="544.4" cy="435.3" r="4.8" fill="#2e4ba5"/>
<path d="M574.3,100.8 L584.7,100.8 L579.5,89.9 Z" fill="#e5404a" fill-opacity="0.92"/>
<circle cx="579.5" cy="451.0" r="4.8" fill="#2e4ba5"/>
<path d="M609.4,30.0 L619.8,30.0 L614.6,19.1 Z" fill="#e5404a" fill-opacity="0.92"/>
<circle cx="614.6" cy="461.2" r="4.8" fill="#2e4ba5"/>
<line x1="510.3" y1="160.0" x2="540.4" y2="124.4" stroke="#1f1f1f" stroke-width="1.1"/>
<path d="M542.0,122.5 L539.5,129.0 L538.7,126.3 L536.0,126.1 Z" fill="#1f1f1f"/>
<line x1="608.3" y1="134.4" x2="620.2" y2="174.2" stroke="#1f1f1f" stroke-width="1.1"/>
<path d="M620.9,176.6 L616.8,170.9 L619.5,171.8 L621.2,169.6 Z" fill="#1f1f1f"/>
<rect x="86.2" y="367.5" width="69.5" height="107.5" fill="#fff" fill-opacity="0.8"/>
<rect x="80.75" y="13.45" width="280.8" height="233.6" fill="none" stroke="#939393" stroke-width="1"/>
<rect x="80.75" y="249.5" width="280.8" height="233.9" fill="none" stroke="#939393" stroke-width="1"/>
<rect x="403.85" y="13.45" width="280.6" height="233.6" fill="none" stroke="#939393" stroke-width="1"/>
<rect x="403.85" y="249.5" width="280.6" height="233.9" fill="none" stroke="#939393" stroke-width="1"/>
<line x1="75.3" y1="37.4" x2="80.8" y2="37.4" stroke="#939393" stroke-width="1"/>
<line x1="75.3" y1="69.1" x2="80.8" y2="69.1" stroke="#939393" stroke-width="1"/>
<line x1="75.3" y1="100.9" x2="80.8" y2="100.9" stroke="#939393" stroke-width="1"/>
<line x1="75.3" y1="132.6" x2="80.8" y2="132.6" stroke="#939393" stroke-width="1"/>
<line x1="75.3" y1="164.4" x2="80.8" y2="164.4" stroke="#939393" stroke-width="1"/>
<line x1="75.3" y1="196.1" x2="80.8" y2="196.1" stroke="#939393" stroke-width="1"/>
<line x1="75.3" y1="227.8" x2="80.8" y2="227.8" stroke="#939393" stroke-width="1"/>
<line x1="75.3" y1="261.1" x2="80.8" y2="261.1" stroke="#939393" stroke-width="1"/>
<line x1="75.3" y1="290.3" x2="80.8" y2="290.3" stroke="#939393" stroke-width="1"/>
<line x1="75.3" y1="319.5" x2="80.8" y2="319.5" stroke="#939393" stroke-width="1"/>
<line x1="75.3" y1="348.8" x2="80.8" y2="348.8" stroke="#939393" stroke-width="1"/>
<line x1="75.3" y1="378.0" x2="80.8" y2="378.0" stroke="#939393" stroke-width="1"/>
<line x1="75.3" y1="407.2" x2="80.8" y2="407.2" stroke="#939393" stroke-width="1"/>
<line x1="75.3" y1="436.5" x2="80.8" y2="436.5" stroke="#939393" stroke-width="1"/>
<line x1="75.3" y1="465.7" x2="80.8" y2="465.7" stroke="#939393" stroke-width="1"/>
<line x1="80.8" y1="483.4" x2="80.8" y2="488.5" stroke="#939393" stroke-width="1"/>
<line x1="404.0" y1="483.4" x2="404.0" y2="488.5" stroke="#939393" stroke-width="1"/>
<line x1="151.1" y1="483.4" x2="151.1" y2="488.5" stroke="#939393" stroke-width="1"/>
<line x1="474.2" y1="483.4" x2="474.2" y2="488.5" stroke="#939393" stroke-width="1"/>
<line x1="221.3" y1="483.4" x2="221.3" y2="488.5" stroke="#939393" stroke-width="1"/>
<line x1="544.4" y1="483.4" x2="544.4" y2="488.5" stroke="#939393" stroke-width="1"/>
<line x1="291.6" y1="483.4" x2="291.6" y2="488.5" stroke="#939393" stroke-width="1"/>
<line x1="614.6" y1="483.4" x2="614.6" y2="488.5" stroke="#939393" stroke-width="1"/>
<line x1="151.1" y1="246.5" x2="151.1" y2="250.0" stroke="#4a4a4a" stroke-width="1"/>
<line x1="474.2" y1="246.5" x2="474.2" y2="250.0" stroke="#4a4a4a" stroke-width="1"/>
<line x1="221.3" y1="246.5" x2="221.3" y2="250.0" stroke="#4a4a4a" stroke-width="1"/>
<line x1="544.4" y1="246.5" x2="544.4" y2="250.0" stroke="#4a4a4a" stroke-width="1"/>
<line x1="291.6" y1="246.5" x2="291.6" y2="250.0" stroke="#4a4a4a" stroke-width="1"/>
<line x1="614.6" y1="246.5" x2="614.6" y2="250.0" stroke="#4a4a4a" stroke-width="1"/>
<text x="70.2" y="41.7" font-size="11" text-anchor="end">0.25</text>
<text x="70.2" y="73.7" font-size="11" text-anchor="end">0.20</text>
<text x="70.2" y="105.8" font-size="11" text-anchor="end">0.15</text>
<text x="70.2" y="137.8" font-size="11" text-anchor="end">0.10</text>
<text x="70.2" y="169.8" font-size="11" text-anchor="end">0.05</text>
<text x="70.2" y="201.9" font-size="11" text-anchor="end">0</text>
<text x="70.2" y="233.9" font-size="11" text-anchor="end">−0.05</text>
<text x="70.2" y="266.0" font-size="11" text-anchor="end">0.015</text>
<text x="70.2" y="295.3" font-size="11" text-anchor="end">0.010</text>
<text x="70.2" y="324.6" font-size="11" text-anchor="end">0.005</text>
<text x="70.2" y="353.9" font-size="11" text-anchor="end">0</text>
<text x="70.2" y="383.2" font-size="11" text-anchor="end">−0.005</text>
<text x="70.2" y="412.4" font-size="11" text-anchor="end">−0.010</text>
<text x="70.2" y="441.7" font-size="11" text-anchor="end">−0.015</text>
<text x="70.2" y="471.0" font-size="11" text-anchor="end">−0.020</text>
<text x="80.8" y="502.3" font-size="11" text-anchor="middle">0</text>
<text x="404.0" y="502.3" font-size="11" text-anchor="middle">0</text>
<text x="151.1" y="502.3" font-size="11" text-anchor="middle">10</text>
<text x="474.2" y="502.3" font-size="11" text-anchor="middle">10</text>
<text x="221.3" y="502.3" font-size="11" text-anchor="middle">20</text>
<text x="544.4" y="502.3" font-size="11" text-anchor="middle">20</text>
<text x="291.6" y="502.3" font-size="11" text-anchor="middle">30</text>
<text x="614.6" y="502.3" font-size="11" text-anchor="middle">30</text>
<text x="166.2" y="520.7" font-size="12.5" text-anchor="start" letter-spacing="0.17">Temperature (°C)</text>
<text x="494.8" y="520.7" font-size="12.5" text-anchor="start" letter-spacing="0.17">Temperature (°C)</text>
<text transform="translate(11.4,130.2) rotate(-90)" font-size="12.5" text-anchor="middle" letter-spacing="0.48">Maximum population</text>
<text transform="translate(25.4,130.0) rotate(-90)" font-size="12.5" text-anchor="middle" letter-spacing="0.35">growth rate (<tspan font-style="italic">r</tspan><tspan font-size="8.5" dy="3" font-style="normal">m</tspan><tspan dy="-3">)</tspan></text>
<text transform="translate(11.4,365.6) rotate(-90)" font-size="12.5" text-anchor="middle" letter-spacing="0.26">Derivative of</text>
<text transform="translate(25.4,365.7) rotate(-90)" font-size="12.5" text-anchor="middle" letter-spacing="0.46">temperature-dependence</text>
<text transform="translate(396.7,126.8) rotate(-90)" font-size="12.5" text-anchor="middle" letter-spacing="-0.2">Trait value (<tspan font-style="italic">B</tspan>)</text>
<text transform="translate(396.7,366.0) rotate(-90)" font-size="12.5" text-anchor="middle" letter-spacing="0.01">Trait value (<tspan font-style="italic">B</tspan>)</text>
<text x="-0.4" y="15.2" font-size="17.8" text-anchor="start" font-weight="bold" fill="#151515" stroke="#151515" stroke-width="0.5">a</text>
<text x="384.3" y="15.2" font-size="17.3" text-anchor="start" font-weight="bold" fill="#151515" stroke="#151515" stroke-width="0.5">b</text>
<text x="89.4" y="263.6" font-size="17.0" text-anchor="start" font-weight="bold" fill="#151515" stroke="#151515" stroke-width="0.5">c</text>
<text transform="translate(84.7,76.7) scale(1.08,1)" font-size="13" font-style="italic">r</text>
<text x="89.6" y="80.8" font-size="8.8">opt</text>
<text transform="translate(234.3,240.1) scale(0.88,1)" font-size="13" font-style="italic">T</text>
<text x="240.6" y="243.6" font-size="8.8">opt</text>
<text transform="translate(233.4,476.9) scale(0.88,1)" font-size="13" font-style="italic">T</text>
<text x="239.8" y="480.8" font-size="8.8">opt</text>
<text transform="translate(407.3,87.9) scale(0.88,1)" font-size="13" font-style="italic">B</text>
<text x="414.7" y="91.5" font-size="8.8">pk</text>
<text transform="translate(407.3,188.2) scale(0.88,1)" font-size="13" font-style="italic">B</text>
<text x="414.8" y="191.7" font-size="8.8">0</text>
<text transform="translate(479.5,240.7) scale(0.88,1)" font-size="13" font-style="italic">T</text>
<text x="486.2" y="243.9" font-size="8.8">ref</text>
<text transform="translate(583.6,240.1) scale(0.88,1)" font-size="13" font-style="italic">T</text>
<text x="589.8" y="243.7" font-size="8.8">pk</text>
<text transform="translate(516.9,139.9) scale(0.88,1)" font-size="13" font-style="italic">E</text>
<text transform="translate(617.4,155.4) scale(0.88,1)" font-size="13" font-style="italic">E</text>
<text x="624.4" y="158.0" font-size="8.8">D</text>
<line x1="89.8" y1="376.2" x2="117.1" y2="376.2" stroke="#a1673f" stroke-width="3.7"/>
<text transform="translate(122.4,380.5) scale(1.08,1)" font-size="13" font-style="italic">r</text>
<text x="127.0" y="384.1" font-size="8.8">m</text>
<line x1="91.5" y1="393.9" x2="115.4" y2="393.9" stroke="#a1673f" stroke-width="3.25" stroke-dasharray="12 5.2"/>
<text transform="translate(122.4,398.2) scale(0.88,1)" font-size="13" font-style="italic">α</text>
<line x1="91.5" y1="411.6" x2="115.4" y2="411.6" stroke="#a1673f" stroke-width="2.7" stroke-dasharray="10 4.3"/>
<text transform="translate(122.4,415.90000000000003) scale(0.88,1)" font-size="13" font-style="italic">b</text>
<text x="129.5" y="419.50000000000006" font-size="8.8">max</text>
<line x1="91.5" y1="429.5" x2="115.4" y2="429.5" stroke="#a1673f" stroke-width="2.0" stroke-dasharray="8.5 3.1"/>
<text transform="translate(122.4,433.8) scale(0.88,1)" font-size="13" font-style="italic">z</text>
<text x="127.8" y="437.40000000000003" font-size="8.8">J</text>
<line x1="91.5" y1="448.3" x2="115.4" y2="448.3" stroke="#a1673f" stroke-width="1.5" stroke-dasharray="5.9 2.9"/>
<text transform="translate(122.4,452.6) scale(0.88,1)" font-size="13" font-style="italic">z</text>
<line x1="91.5" y1="465.7" x2="115.4" y2="465.7" stroke="#a1673f" stroke-width="1.1" stroke-dasharray="4.1 1.75"/>
<text transform="translate(122.4,470.0) scale(0.88,1)" font-size="13" font-style="italic">K</text>
</svg>
</body></html>
